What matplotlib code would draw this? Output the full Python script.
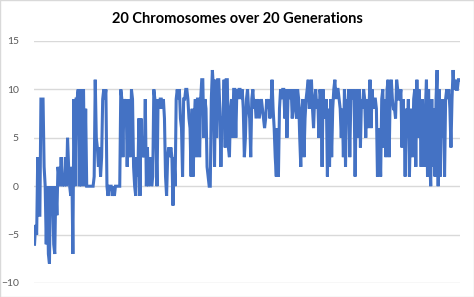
import matplotlib
matplotlib.use("Agg")
import matplotlib.pyplot as plt
from matplotlib.patches import Rectangle

title = "20 Chromosomes over 20 Generations"
y_ticks = [-10, -5, 0, 5, 10, 15]

# fitness value of each chromosome, one list per generation
gen01 = [-6, -4, -5, 3, -3, -3, 9, 9, 9, 2, 0, -6, 0, -7, -8, 0, -3, 0, -6, -7]
gen02 = [0, -3, 2, 1, 0, 3, 0, 1, 0, 3, 0, 5, 2, 0, -1, 2, -7, 9, 0, 9]
gen03 = [9, 10, 0, 10, 0, 9, 10, 0, 8, 0, 0, 0, 0, 0, 0, 0, 1, 11, 5, 4]
gen04 = [2, 4, 1, 3, 9, 10, 9, 10, 0, -1, 0, 0, 0, -1, 0, -1, 0, 0, 0, 0]
gen05 = [0, 10, 9, 3, 9, 8, 9, 2, 9, 4, 3, 10, 9, 2, 0, -1, 3, 1, 7, -1]
gen06 = [7, 3, 4, 3, 9, 0, 4, 0, 1, 3, 0, 1, 10, 9, 5, 0, 9, 8, 9, 9]
gen07 = [8, 9, 7, 1, -1, 3, 4, 3, 4, 3, -2, 3, 0, 9, 10, 9, 10, 7, 6, 1]
gen08 = [9, 9, 10, 10, 9, 7, 6, 1, 8, 1, 7, 9, 3, 9, 9, 3, 9, 11, 11, 5]
gen09 = [9, 8, 2, 1, 0, 0, 9, 12, 10, 2, 11, 5, 11, 11, 8, 2, 7, 7, 11, 4]
gen10 = [11, 11, 4, 3, 8, 9, 5, 10, 10, 5, 10, 9, 10, 10, 9, 10, 8, 3, 5, 9]
gen11 = [10, 8, 7, 3, 9, 10, 8, 9, 7, 8, 9, 7, 8, 9, 8, 7, 6, 7, 9, 8]
gen12 = [9, 7, 8, 11, 8, 6, 3, 1, 6, 1, 8, 10, 9, 10, 10, 7, 10, 5, 9, 10]
gen13 = [9, 10, 7, 9, 10, 8, 7, 10, 9, 5, 2, 8, 9, 3, 7, 9, 10, 11, 8, 9]
gen14 = [11, 8, 6, 9, 10, 8, 9, 5, 10, 9, 2, 10, 7, 8, 9, 1, 8, 2, 9, 3]
gen15 = [8, 10, 11, 9, 10, 10, 9, 8, 5, 8, 3, 10, 2, 9, 8, 10, 3, 9, 10, 9]
gen16 = [10, 1, 8, 10, 5, 10, 4, 9, 8, 10, 9, 5, 9, 6, 8, 11, 6, 10, 8, 9]
gen17 = [9, 8, 1, 6, 5, 1, 9, 10, 4, 9, 3, 10, 11, 3, 10, 11, 9, 8, 8, 7]
gen18 = [11, 10, 9, 9, 10, 4, 9, 7, 1, 8, 5, 9, 1, 6, 8, 3, 9, 10, 2, 11]
gen19 = [5, 10, 8, 2, 9, 4, 2, 8, 11, 1, 10, 3, 0, 9, 2, 8, 1, 9, 12, 0]
gen20 = [10, 1, 9, 5, 9, 1, 9, 10, 9, 10, 8, 4, 9, 12, 10, 11, 10, 10, 11, 11]

generations = [gen01, gen02, gen03, gen04, gen05, gen06, gen07, gen08, gen09, gen10,
               gen11, gen12, gen13, gen14, gen15, gen16, gen17, gen18, gen19, gen20]
values = [v for g in generations for v in g]
idx = list(range(len(values)))

fig = plt.figure(figsize=(4.74, 2.97), dpi=100)
ax = fig.add_axes([34 / 474, 14 / 297, 426 / 474, 242 / 297])

ax.plot(idx, values, color="#4472C4", lw=2.2, solid_joinstyle="miter", zorder=3)

ax.set_ylim(-10, 15)
ax.set_xlim(-0.5, len(values) - 0.5)
ax.set_yticks(y_ticks)
ax.set_xticks([])
ax.grid(axis="y", color="#D9D9D9", lw=1)
ax.set_axisbelow(True)
for s in ax.spines.values():
    s.set_visible(False)
ax.tick_params(axis="y", length=0, pad=11, labelsize=7.5, labelcolor="#595959")
for lab in ax.get_yticklabels():
    lab.set_fontfamily("Lato")

fig.text(0.5, 1 - 19 / 297, title, ha="center", va="center",
         fontsize=10.5, fontweight="bold", family="Lato", color="#000000")

fig.patches.append(Rectangle((0, 0), 1, 1, transform=fig.transFigure,
                             fill=False, edgecolor="#D9D9D9", lw=1))

fig.savefig("out.png", dpi=100)
